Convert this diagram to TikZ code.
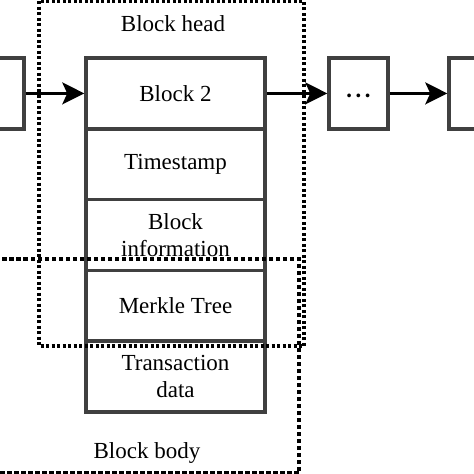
\documentclass[tikz,border=0pt]{standalone}
\usepackage{fontspec}
\setmainfont{Liberation Serif}
\usetikzlibrary{positioning,arrows.meta}
\definecolor{cellgray}{RGB}{64,64,64}

\tikzset{
  blockcell/.style={draw=cellgray, line width=3.5pt, minimum width=179pt, minimum height=70.8pt,
    inner sep=0pt, align=center, font=\fontsize{23}{27}\selectfont},
  chainbox/.style={draw=cellgray, line width=3.5pt, minimum width=59pt, minimum height=71pt,
    inner sep=0pt, font=\fontsize{23}{27}\selectfont},
  link/.style={line width=2.6pt, -{Stealth[length=22pt,width=22pt,inset=5pt]}},
  headbox/.style={line width=3.2pt, dash pattern=on 3pt off 2.5pt},
  bodybox/.style={line width=3.2pt, dash pattern=on 4.5pt off 2.5pt}
}

\begin{document}
\begin{tikzpicture}[x=1pt,y=-1pt]
\clip (0,0) rectangle (474,474);
\fill[white] (0,0) rectangle (474,474);
% block stack
\node[blockcell] (blk2) at (175.5,93.4) {Block 2};
\node[blockcell, below=-3.5pt of blk2] (stamp) {Timestamp};
\node[blockcell, below=-3.5pt of stamp] (info) {Block\\information};
\node[blockcell, below=-3.5pt of info] (merkle) {Merkle Tree};
\node[blockcell, below=-3.5pt of merkle] (trans) {Transaction\\data};
% chain
\node[chainbox, left=58.5pt of blk2] (prev) {};
\node[chainbox, right=60.5pt of blk2, text height=0pt, text depth=0pt] (dots)
  {\raisebox{-10pt}{\bfseries\textperiodcentered\kern1.5pt\textperiodcentered\kern1.5pt\textperiodcentered}};
\node[chainbox, right=57.5pt of dots] (next) {};
\draw[link] (prev.east) -- (blk2.west);
\draw[link] (blk2.east) -- (dots.west);
\draw[link] (dots.east) -- (next.west);
% head and body
\draw[headbox] (39,1) rectangle (304,346);
\draw[bodybox] (-10,259) rectangle (299,473);
\node[font=\fontsize{23}{27}\selectfont] (headlbl) at (173,24) {Block head};
\node[font=\fontsize{23}{27}\selectfont] (bodylbl) at (147,453) {Block body};
\end{tikzpicture}
\end{document}
